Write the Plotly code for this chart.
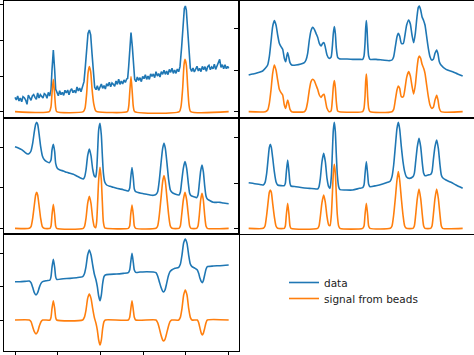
import plotly.graph_objects as go

# ---------------- data (channel, intensity in arbitrary units) ----------------
# Panel 1 (top-left): noisy data with a rising baseline
p1_data_x = [0, 4, 8, 12, 16, 20, 24, 28, 32, 36, 40, 44, 48, 52, 56, 60, 64, 68, 72, 76, 80, 84, 88, 92, 96, 100, 104,
             108, 111, 115, 119, 122,
             126, 130, 134, 138, 142, 146, 150, 154, 158, 162, 166, 170, 174, 178, 182, 186, 190, 194, 198, 202,
             207, 211, 215, 219, 223, 227, 231, 235, 239,
             243, 247, 251, 255, 259, 263, 267, 271, 275, 279, 283, 287, 291, 295, 299, 303, 307, 311, 315, 319,
             323, 327, 331, 335,
             338, 341, 345, 348, 352, 355, 359,
             363, 367, 371, 375, 379, 383, 387, 391, 395, 399, 403, 407, 411, 415, 419, 423, 427, 431, 435, 439,
             443, 447, 451, 455, 459, 463, 467, 471, 475, 479, 483, 487, 491,
             495, 500, 504, 508, 511, 514, 518, 522, 526,
             530, 534, 538, 542, 546, 550, 554, 558, 562, 566, 570, 574, 578, 582, 586, 590, 594, 598, 602, 606,
             610, 614, 618, 622, 626, 630, 634, 638, 641]
p1_data_y = [43, 35, 47, 32, 41, 30, 45, 42, 35, 22, 50, 39, 34, 47, 51, 43, 37, 56, 41, 51, 46, 41, 54, 51, 40, 58, 47,
             65, 125, 185, 125, 67,
             58, 48, 63, 51, 58, 49, 64, 56, 65, 51, 63, 69, 57, 64, 56, 74, 62, 71, 60, 71,
             90, 135, 195, 235, 245, 230, 175, 115, 73,
             66, 78, 64, 76, 83, 70, 78, 68, 84, 77, 88, 75, 86, 82, 76, 92, 82, 97, 82, 92,
             83, 95, 88, 98,
             100, 135, 205, 237, 195, 135, 97,
             90, 104, 94, 102, 90, 106, 99, 111, 97, 107, 97, 113, 106, 113, 102, 120, 107, 114, 104, 120,
             112, 124, 112, 122, 111, 127, 118, 130, 115, 125, 115, 128, 120,
             135, 195, 265, 310, 317, 305, 245, 170, 130,
             121, 131, 119, 129, 136, 122, 130, 120, 136, 126, 135, 121, 135, 139, 126, 134, 129, 142, 127, 137,
             147, 157, 133, 141, 129, 141, 129, 136, 130]
p1_sig_x = [0, 103, 108, 111, 115, 119, 122, 125, 205, 210, 215, 219, 223, 227, 231, 236, 242, 247,
            337, 341, 344, 348, 352, 355, 359, 493, 498, 503, 507, 510, 514, 518, 522, 527, 641]
p1_sig_y = [0, 0, 15, 55, 97, 50, 12, 0, 0, 10, 55, 115, 135, 120, 70, 25, 3, 0,
            0, 15, 55, 105, 55, 15, 0, 0, 15, 70, 140, 157, 140, 75, 20, 0, 0]

# Panel 2 (top-right)
p2_data_x = [0, 12, 22, 32, 42, 50, 57, 62, 67, 72, 77, 82, 87, 92, 97, 102, 107, 111, 114, 117, 120, 124, 129,
             142, 157, 167, 172, 177, 182, 187, 192, 197, 202, 207, 212, 217, 222, 226, 230, 235, 241, 247, 251,
             254, 257, 260, 263, 267, 272, 292, 312, 332, 342, 346, 349, 351, 353, 355, 357, 360, 364, 382, 402,
             422, 430, 435, 440, 445, 449, 453, 458, 464, 469, 474, 480, 485, 490, 495, 500, 505, 509, 512, 516,
             520, 525, 529, 534, 539, 544, 549, 554, 559, 564, 568, 572, 577, 592, 612, 627, 642]
p2_data_y = [110, 113, 115, 118, 122, 130, 140, 165, 210, 255, 273, 260, 230, 205, 195, 187, 160, 150, 165, 177,
             165, 147, 140, 140, 143, 147, 155, 175, 215, 243, 253, 247, 235, 223, 205, 197, 205, 207, 193, 170,
             160, 163, 195, 235, 255, 235, 190, 163, 159, 158, 157, 157, 157, 167, 205, 250, 273, 250, 205, 167,
             157, 157, 155, 153, 155, 165, 195, 225, 235, 227, 205, 205, 230, 260, 275, 263, 230, 207, 235, 285,
             313, 317, 305, 285, 273, 260, 225, 190, 165, 155, 157, 175, 185, 173, 150, 140, 127, 120, 113, 107]
p2_sig_x = [0, 50, 57, 62, 67, 72, 77, 82, 87, 92, 97, 102, 107, 111, 114, 117, 120, 124, 129, 167, 172, 177,
            182, 187, 192, 197, 202, 207, 212, 217, 222, 226, 230, 235, 241, 247, 251, 254, 257, 260, 263, 267,
            272, 342, 346, 349, 351, 353, 355, 357, 360, 364, 430, 435, 440, 445, 449, 453, 458, 464, 469, 474,
            480, 485, 490, 495, 500, 505, 509, 512, 516, 520, 525, 529, 534, 539, 544, 549, 554, 559, 564, 568,
            572, 577, 642]
p2_sig_y = [0, 0, 5, 25, 65, 115, 140, 125, 95, 67, 57, 50, 20, 10, 23, 35, 25, 7, 0, 0, 7, 30,
            65, 90, 97, 93, 80, 67, 50, 43, 50, 52, 35, 10, 0, 2, 35, 75, 93, 73, 30, 2,
            0, 0, 10, 45, 90, 113, 90, 45, 10, 0, 0, 7, 35, 65, 77, 70, 45, 45, 70, 103,
            120, 107, 77, 53, 80, 130, 160, 167, 160, 143, 130, 115, 80, 45, 20, 10, 13, 35, 49, 35,
            10, 0, 0]

# Panel 3 (middle-left)
p3_data_x = [0, 10, 20, 30, 38, 43, 48, 53, 58, 62, 65, 68, 72, 77, 82, 87, 95, 103, 108, 111, 115, 119, 122,
             127, 135, 145, 155, 165, 175, 185, 195, 205, 209, 213, 218, 223, 228, 233, 238, 242, 245, 248, 251,
             255, 259, 262, 265, 269, 275, 285, 295, 305, 315, 325, 335, 340, 344, 347, 351, 355, 358, 362, 375,
             385, 395, 405, 415, 423, 428, 433, 438, 443, 447, 451, 456, 461, 466, 471, 480, 492, 496, 500, 505,
             510, 515, 520, 524, 528, 537, 545, 549, 553, 557, 561, 565, 569, 573, 577, 585, 595, 605, 615, 625,
             641]
p3_data_y = [245, 241, 236, 228, 223, 225, 232, 255, 290, 312, 318, 312, 285, 245, 218, 207, 200, 197, 205, 235,
             252, 230, 195, 180, 175, 172, 168, 165, 162, 157, 152, 148, 155, 175, 218, 238, 218, 178, 157, 154,
             175, 235, 295, 315, 280, 220, 168, 140, 130, 126, 123, 120, 118, 116, 113, 112, 120, 150, 182, 150,
             118, 110, 106, 104, 102, 100, 99, 102, 110, 145, 195, 240, 255, 240, 195, 145, 115, 108, 103, 100,
             108, 140, 180, 200, 180, 135, 105, 98, 95, 92, 100, 135, 172, 190, 170, 128, 97, 88, 83, 78, 78,
             78, 76, 74]
p3_sig_x = [0, 43, 48, 53, 58, 62, 65, 68, 72, 77, 82, 87, 105, 108, 111, 115, 119, 122, 125, 205, 209, 213,
            218, 223, 228, 233, 238, 242, 245, 248, 251, 255, 259, 262, 265, 269, 273, 340, 344, 347, 351, 355,
            358, 362, 423, 428, 433, 438, 443, 447, 451, 456, 461, 466, 471, 492, 496, 500, 505, 510, 515, 520,
            524, 528, 545, 549, 553, 557, 561, 565, 569, 573, 577, 641]
p3_sig_y = [0, 0, 5, 30, 70, 100, 108, 100, 70, 30, 5, 0, 0, 7, 40, 72, 40, 7, 0, 0, 7, 30,
            75, 96, 75, 30, 5, 2, 20, 80, 145, 183, 145, 80, 20, 2, 0, 0, 7, 40, 70, 40,
            7, 0, 0, 7, 40, 90, 140, 158, 140, 90, 40, 7, 0, 0, 7, 40, 85, 108, 85, 40,
            7, 0, 0, 7, 40, 85, 105, 85, 40, 7, 0, 0]

# Panel 4 (middle-right)
p4_data_x = [0, 12, 24, 37, 44, 49, 54, 59, 62, 65, 68, 72, 77, 82, 87, 97, 107, 110, 113, 117, 121, 124, 127,
             142, 162, 182, 202, 207, 211, 215, 220, 225, 230, 235, 240, 244, 248, 251, 254, 257, 260, 263, 266,
             270, 274, 292, 312, 332, 342, 346, 349, 353, 357, 360, 364, 382, 402, 417, 425, 430, 435, 440, 445,
             449, 453, 458, 463, 468, 473, 482, 493, 497, 501, 506, 511, 516, 521, 525, 529, 538, 546, 550, 554,
             559, 564, 569, 574, 578, 582, 592, 607, 622, 642]
p4_data_y = [137, 135, 133, 131, 130, 137, 165, 215, 243, 252, 243, 212, 170, 140, 130, 128, 128, 135, 168, 205,
             168, 135, 127, 125, 122, 120, 118, 118, 125, 150, 200, 225, 200, 150, 125, 120, 155, 225, 295, 318,
             290, 220, 160, 125, 116, 115, 115, 120, 122, 130, 162, 200, 162, 132, 125, 128, 133, 138, 142, 155,
             190, 245, 300, 318, 298, 245, 200, 170, 155, 150, 155, 165, 200, 245, 270, 245, 195, 165, 158, 160,
             162, 170, 205, 245, 265, 240, 190, 160, 152, 145, 138, 130, 120]
p4_sig_x = [0, 44, 49, 54, 59, 62, 65, 68, 72, 77, 82, 87, 107, 110, 113, 117, 121, 124, 127, 207, 211, 215,
            220, 225, 230, 235, 240, 244, 248, 251, 254, 257, 260, 263, 266, 270, 274, 342, 346, 349, 353, 357,
            360, 364, 425, 430, 435, 440, 445, 449, 453, 458, 463, 468, 473, 493, 497, 501, 506, 511, 516, 521,
            525, 529, 546, 550, 554, 559, 564, 569, 574, 578, 582, 642]
p4_sig_y = [0, 0, 7, 40, 85, 108, 115, 108, 75, 35, 7, 0, 0, 7, 40, 75, 40, 7, 0, 0, 7, 35,
            78, 100, 78, 35, 10, 8, 40, 100, 165, 192, 165, 100, 40, 7, 0, 0, 7, 40, 75, 40,
            7, 0, 0, 7, 40, 90, 145, 170, 145, 90, 40, 7, 0, 0, 7, 40, 90, 118, 90, 40,
            7, 0, 0, 7, 40, 90, 118, 90, 40, 7, 0, 0]

# Panel 5 (bottom-left)
p5_data_x = [0, 15, 30, 43, 48, 53, 58, 63, 68, 73, 78, 83, 95, 105, 108, 111, 115, 119, 122, 125, 145, 165,
             185, 203, 208, 213, 218, 223, 228, 233, 238, 243, 247, 251, 255, 259, 263, 267, 271, 285, 305, 325,
             340, 344, 347, 351, 355, 358, 362, 375, 395, 415, 423, 428, 433, 438, 443, 446, 450, 455, 460, 465,
             470, 480, 491, 496, 501, 506, 511, 516, 521, 526, 531, 540, 547, 551, 555, 559, 562, 565, 569, 573,
             577, 595, 615, 641]
p5_data_y = [115, 115, 116, 117, 112, 98, 82, 75, 82, 98, 110, 115, 118, 120, 130, 158, 182, 158, 130, 122, 124,
             125, 127, 130, 138, 160, 195, 210, 195, 165, 138, 120, 100, 72, 58, 75, 110, 130, 135, 137, 138,
             140, 142, 150, 172, 200, 172, 150, 143, 144, 145, 144, 142, 132, 115, 98, 86, 84, 90, 110, 132,
             145, 150, 155, 158, 167, 195, 232, 243, 230, 195, 168, 160, 155, 150, 140, 125, 115, 112, 118, 135,
             152, 160, 162, 163, 165]
p5_sig_x = [0, 43, 48, 53, 58, 63, 68, 73, 78, 83, 105, 108, 111, 115, 119, 122, 125, 203, 208, 213, 218, 223,
            228, 233, 238, 243, 247, 251, 255, 259, 263, 267, 271, 340, 344, 347, 351, 355, 358, 362, 423, 428,
            433, 438, 443, 446, 450, 455, 460, 465, 470, 491, 496, 501, 506, 511, 516, 521, 526, 531, 547, 551,
            555, 559, 562, 565, 569, 573, 577, 641]
p5_sig_y = [0, 0, -5, -20, -35, -42, -35, -18, -5, 0, 0, 8, 35, 58, 35, 8, 0, 0, 8, 30, 65, 78,
            65, 35, 8, -10, -30, -60, -75, -60, -25, -5, 0, 0, 8, 30, 58, 30, 8, 0, 0, -8,
            -25, -45, -60, -63, -58, -40, -20, -5, 0, 0, 8, 35, 75, 90, 75, 35, 8, 0, 0, -8,
            -25, -40, -45, -40, -25, -8, 0, 0]

# tick positions (labels are outside the visible area)
p1_yticks = [0, 107, 214, 321]
p2_yticks = [0, 125, 250]
p3_yticks = [0, 122, 243]
p4_yticks = [0, 135, 272]
p5_yticks = [0, 100, 200]
p5_xticks = [0, 128, 256, 384, 512, 640]
empty_ticks = [0, 0.2, 0.4, 0.6, 0.8, 1.0]

series_names = ["data", "signal from beads"]

# ---------------- figure ----------------
BLUE = "#1f77b4"
ORANGE = "#ff7f0e"
W, H = 474, 355

panels = [
    (p1_data_x, p1_data_y, p1_sig_x, p1_sig_y, "linear"),
    (p2_data_x, p2_data_y, p2_sig_x, p2_sig_y, "spline"),
    (p3_data_x, p3_data_y, p3_sig_x, p3_sig_y, "spline"),
    (p4_data_x, p4_data_y, p4_sig_x, p4_sig_y, "spline"),
    (p5_data_x, p5_data_y, p5_sig_x, p5_sig_y, "spline"),
]

fig = go.Figure()
for i, (dx, dy, sx, sy, shape) in enumerate(panels, start=1):
    ax = "" if i == 1 else str(i)
    fig.add_trace(go.Scatter(x=dx, y=dy, mode="lines", name=series_names[0],
                             line=dict(color=BLUE, width=1.6, shape=shape, smoothing=0.6),
                             xaxis="x" + ax, yaxis="y" + ax, showlegend=(i == 1),
                             legend="legend"))
    fig.add_trace(go.Scatter(x=sx, y=sy, mode="lines", name=series_names[1],
                             line=dict(color=ORANGE, width=1.6, shape="spline", smoothing=0.6),
                             xaxis="x" + ax, yaxis="y" + ax, showlegend=(i == 1),
                             legend="legend2"))

xL = [4 / W, 239 / W]
xR = [239 / W, 1.0]
rows = [[(H - 117.5) / H, (H - 1) / H],
        [(H - 234) / H, (H - 117.5) / H],
        [(H - 350.7) / H, (H - 234) / H]]

base = dict(showgrid=False, zeroline=False, showticklabels=False, showline=True,
            linecolor="black", linewidth=1, mirror=True, tickcolor="black",
            ticklen=4, tickwidth=1)

specs = [
    # (xdomain, ydomain, xrange, yrange, xticks, yticks)
    (xL, rows[0], [-33, 672], [-17.5, 332], None, p1_yticks),
    (xR, rows[0], [-29, 676], [-17.5, 332], None, p2_yticks),
    (xL, rows[1], [-33, 672], [-17, 332.5], None, p3_yticks),
    (xR, rows[1], [-29, 676], [-17, 332.5], None, p4_yticks),
    (xL, rows[2], [-33, 672], [-92, 258], p5_xticks, p5_yticks),
    (xR, rows[2], [0, 1], [0, 1], empty_ticks, empty_ticks),
]

layout = {}
for i, (xd, yd, xr, yr, xt, yt) in enumerate(specs, start=1):
    ax = "" if i == 1 else str(i)
    xa = dict(base, domain=xd, range=xr, anchor="y" + ax)
    if xt is None:
        xa.update(ticks="")
    else:
        xa.update(ticks="outside", tickmode="array", tickvals=xt)
    ya = dict(base, domain=yd, range=yr, anchor="x" + ax,
              ticks="outside", tickmode="array", tickvals=yt)
    layout["xaxis" + ax] = xa
    layout["yaxis" + ax] = ya

legend_font = dict(family="DejaVu Sans", size=10.5, color="#222222")
fig.update_layout(
    width=W, height=H,
    margin=dict(l=0, r=0, t=0, b=0),
    paper_bgcolor="white", plot_bgcolor="white",
    font=dict(family="DejaVu Sans", size=10.5, color="#222222"),
    legend=dict(x=284 / W, y=(H - 268) / H, xanchor="left", yanchor="top",
                bgcolor="rgba(255,255,255,0)", borderwidth=0, font=legend_font),
    legend2=dict(x=284 / W, y=(H - 284) / H, xanchor="left", yanchor="top",
                 bgcolor="rgba(255,255,255,0)", borderwidth=0, font=legend_font),
    **layout,
)

fig.write_html("out.html", config={"displayModeBar": False},
               post_script="document.body.style.margin='0';")
